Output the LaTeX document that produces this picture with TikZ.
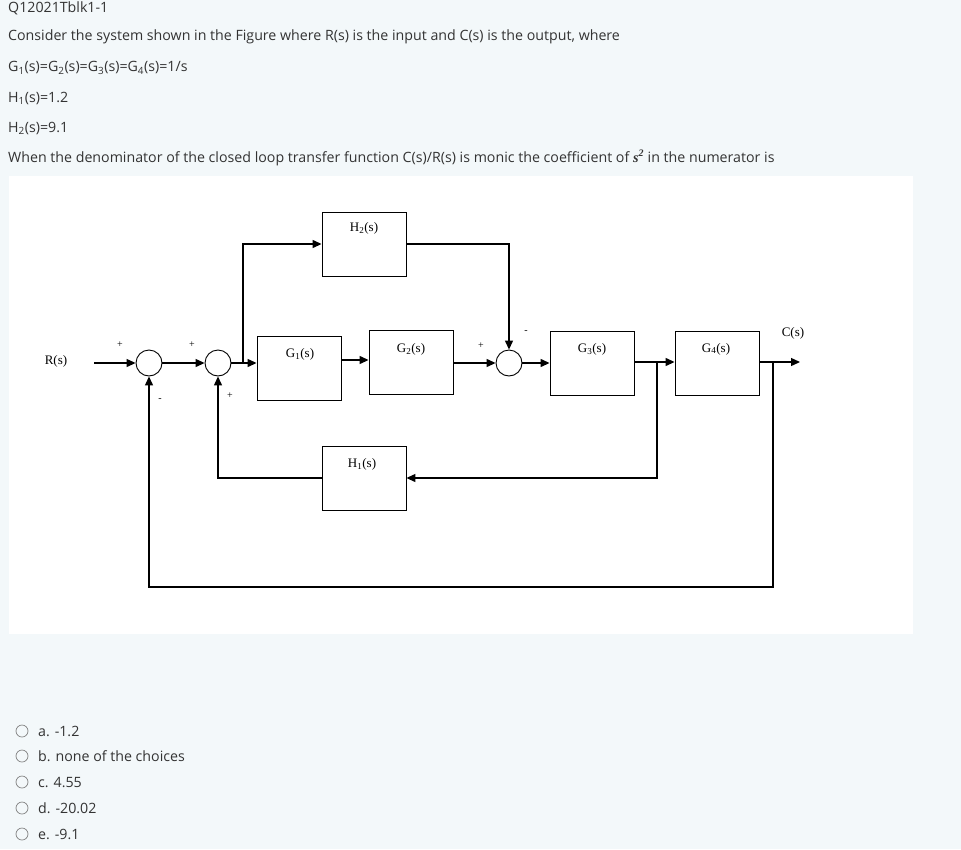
\documentclass[tikz,border=0pt]{standalone}
\usepackage{fontspec}
\setmainfont{Open Sans}
\newfontfamily\dgm{Liberation Serif}
\usetikzlibrary{arrows.meta}
\definecolor{pagebg}{HTML}{F3F8FA}
\definecolor{txt}{HTML}{333333}
\begin{document}
\begin{tikzpicture}[x=1pt,y=-1pt,
  q/.style={anchor=west,inner sep=0pt,text=txt,font=\fontsize{14.2}{16}\selectfont},
  blk/.style={draw,line width=0.9pt,minimum width=84pt,minimum height=64pt,inner sep=0pt},
  lab/.style={font=\dgm\fontsize{13}{14}\selectfont,inner sep=0pt},
  sg/.style={font=\dgm\fontsize{10}{11}\selectfont,inner sep=0pt},
  sumc/.style={draw,circle,line width=0.9pt,minimum size=26pt,inner sep=0pt},
  w/.style={line width=1.3pt},
  a/.style={w,-{Triangle[length=9pt,width=8pt]}},
  opt/.style={draw=gray,circle,minimum size=12pt,inner sep=0pt,line width=0.7pt}]
\fill[pagebg] (0,0) rectangle (961,849);
\useasboundingbox (0,0) rectangle (961,849);
\fill[white] (9,176) rectangle (913,634);
\node[q] (t0) at (8,8) {Q12021Tblk1-1};
\node[q] (t1) at (8,37) {Consider the system shown in the Figure where R(s) is the input and C(s) is the output, where};
\node[q] (t2) at (8,68) {G\textsubscript{1}(s)=G\textsubscript{2}(s)=G\textsubscript{3}(s)=G\textsubscript{4}(s)=1/s};
\node[q] (t3) at (8,98) {H\textsubscript{1}(s)=1.2};
\node[q] (t4) at (8,128) {H\textsubscript{2}(s)=9.1};
\node[q] (t5) at (8,158) {When the denominator of the closed loop transfer function C(s)/R(s) is monic the coefficient of {\dgm\bfseries\itshape s\textsuperscript{2}} in the numerator is};
% diagram
\node[lab] (R) at (56,361) {R(s)};
\coordinate (rin) at (94,363);
\node[sumc] (s1) at (149,363) {};
\node[sumc] (s2) at (218,363) {};
\node[sumc] (s3) at (509,363) {};
\node[blk] (G1) at (299,368) {};
\node[blk] (G2) at (411,362) {};
\node[blk] (G3) at (592,363) {};
\node[blk] (G4) at (717,363) {};
\node[blk] (H2) at (364,244) {};
\node[blk] (H1) at (364,478) {};
\node[lab] at (300,354) {G\textsubscript{1}(s)};
\node[lab] at (411,349) {G\textsubscript{2}(s)};
\node[lab] at (592,349) {G\textsubscript{3}(s)};
\node[lab] at (716,349) {G\textsubscript{4}(s)};
\node[lab] at (364,228) {H\textsubscript{2}(s)};
\node[lab] at (362,464) {H\textsubscript{1}(s)};
\node[lab] (C) at (793,333) {C(s)};
\coordinate (out) at (800,362);
\node[sg] at (120,345) {+};
\node[sg] at (160,400) {-};
\node[sg] at (192,345) {+};
\node[sg] at (230,396) {+};
\node[sg] at (481,346) {+};
\node[sg] at (526,332) {-};
\draw[a] (rin) -- (s1);
\draw[a] (s1) -- (s2);
\draw[a] (s2) -- (s2 -| G1.west);
\draw[a] (243,363) |- (H2.west);
\draw[a] (G1.east |- 0,360) -- (G2.west |- 0,360);
\draw[a] (G2.east |- 0,363) -- (s3);
\draw[a] (H2.east) -| (s3.north);
\draw[a] (s3) -- (s3 -| G3.west);
\draw[a] (G3.east |- 0,362) -- (G4.west |- 0,362);
\draw[a] (G4.east |- 0,362) -- (out);
\draw[a] (657,362) |- (H1.east);
\draw[a] (H1.west) -| (s2.south);
\draw[a] (773,362) |- (149,587) -- (s1.south);
% options
\foreach \y/\t/\n in {731/a. -1.2/oa,756/b. none of the choices/ob,782/c. 4.55/oc,808/d. -20.02/od,834/e. -9.1/oe}{
  \node[opt] (\n) at (22,\y) {};
  \node[q] at (38,\y) {\t};
}
\end{tikzpicture}
\end{document}
